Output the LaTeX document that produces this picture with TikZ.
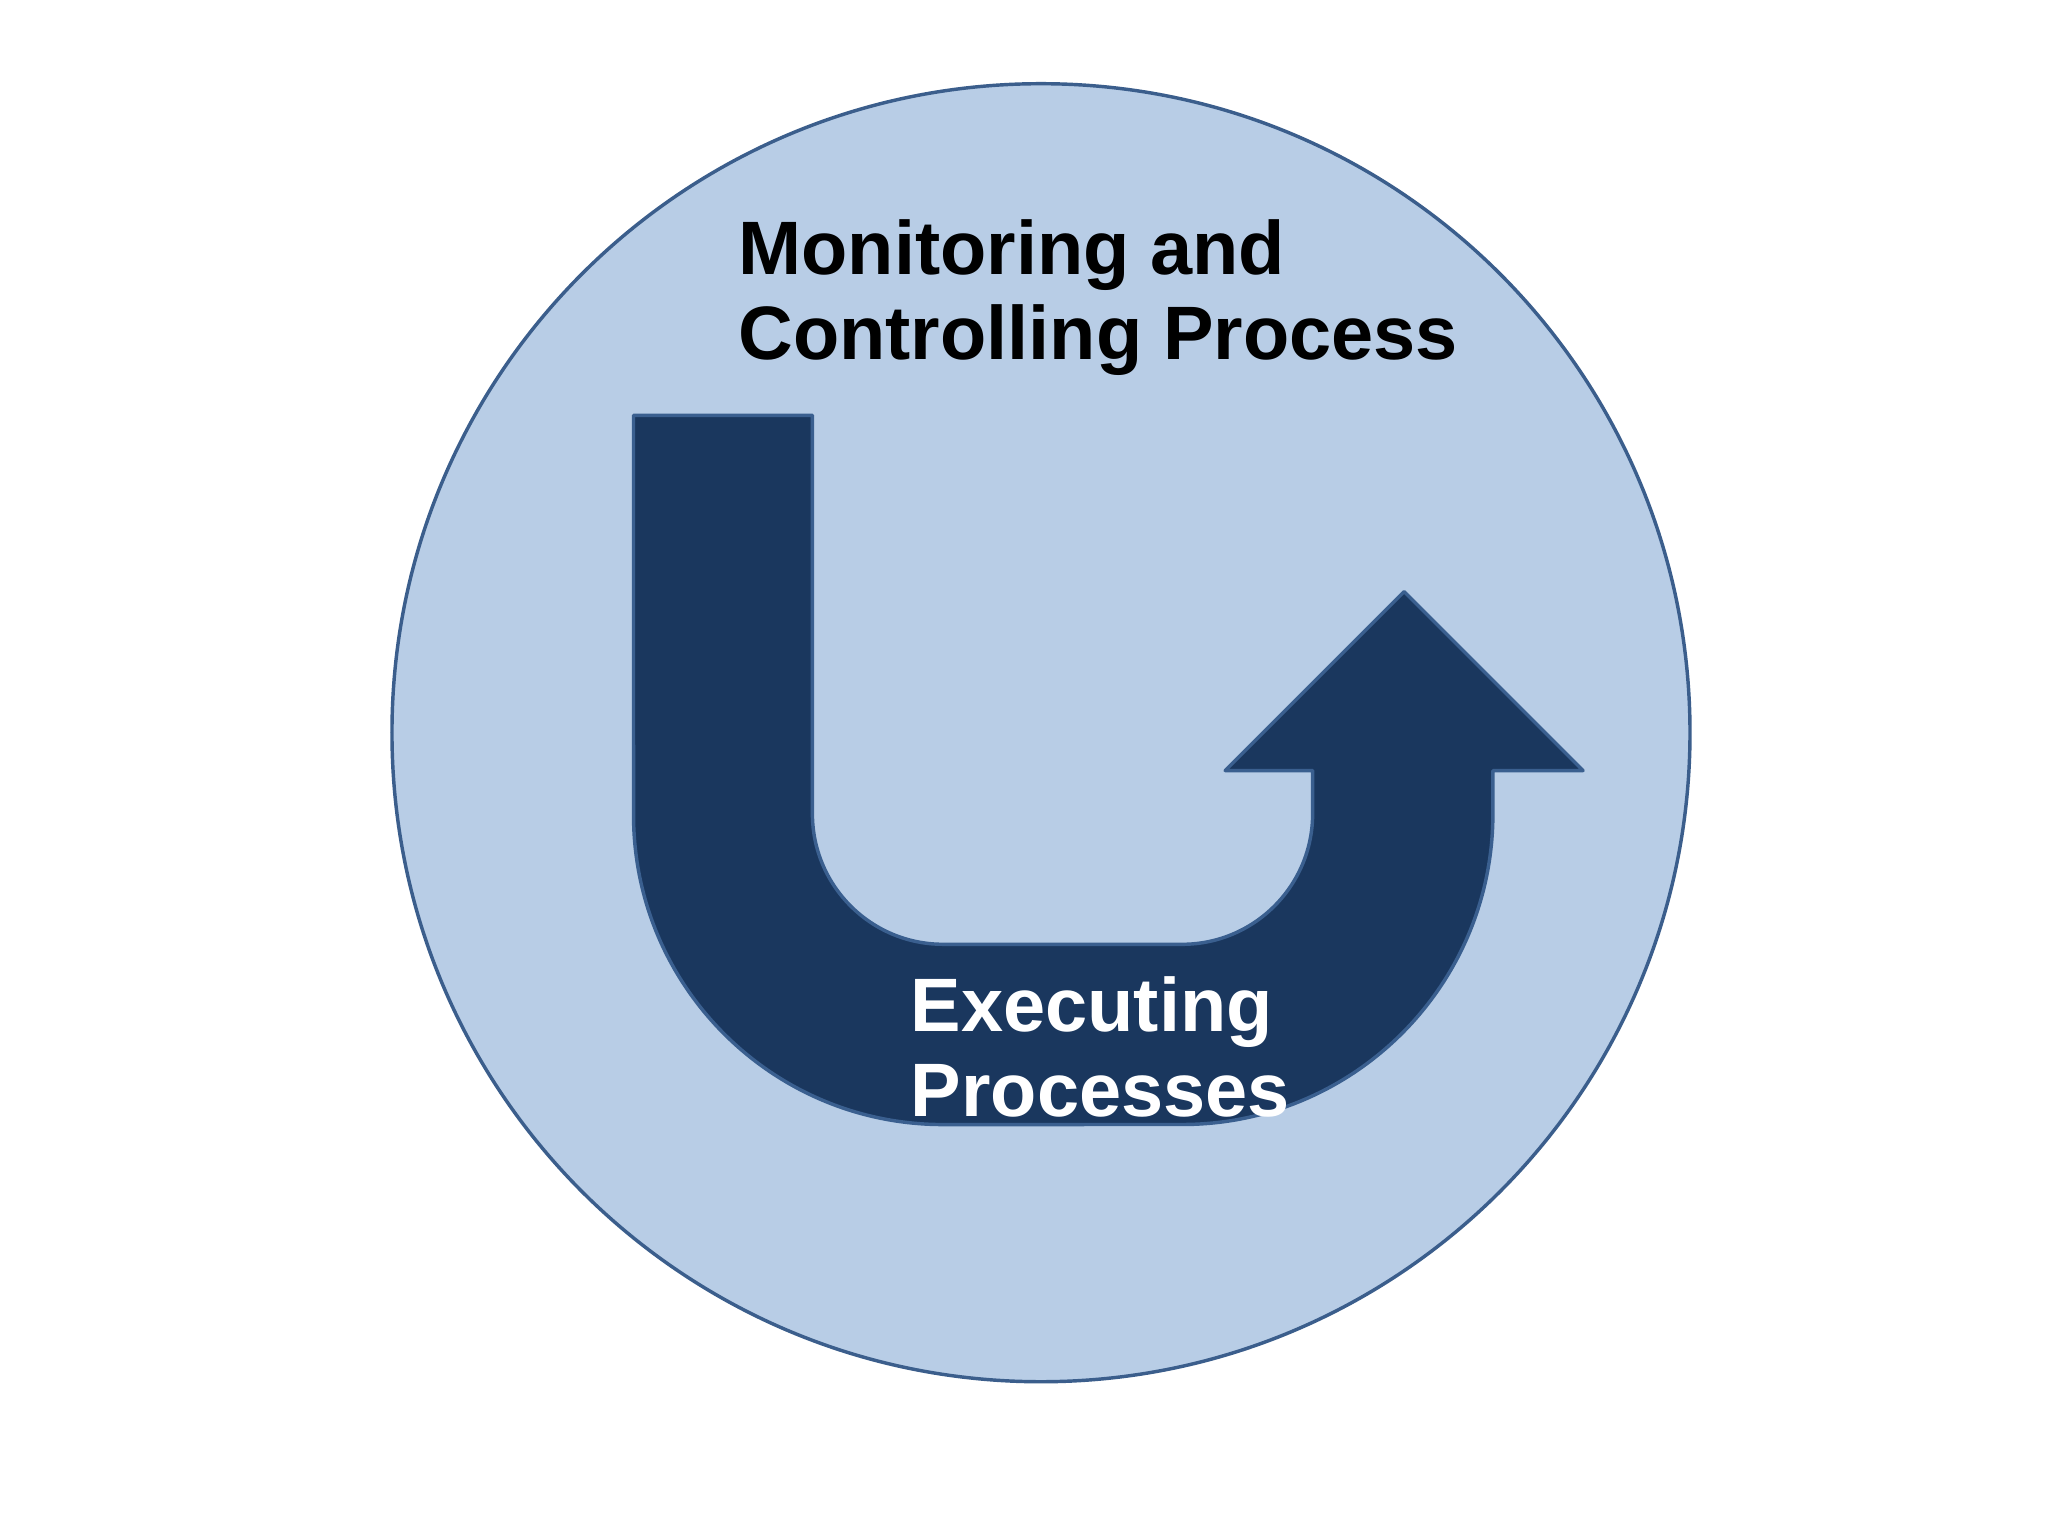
\documentclass[tikz,border=0pt]{standalone}
\usepackage{fontspec}
\setmainfont{Liberation Sans}
\definecolor{circfill}{HTML}{B8CDE6}
\definecolor{circline}{HTML}{3B5E8C}
\definecolor{arrfill}{HTML}{1A375E}
\definecolor{arrline}{HTML}{3A5F8F}
\tikzset{lbl/.style={anchor=base west,inner sep=0pt,font=\fontsize{33}{37}\selectfont\bfseries}}
\begin{document}
\begin{tikzpicture}[x=0.02cm,y=0.02cm]
\useasboundingbox (0,0) rectangle (1568,1176);
\fill[white] (0,0) rectangle (1568,1176);
\node[circle,draw=circline,fill=circfill,line width=1.5pt,minimum size=19.88cm,inner sep=0pt] (circ) at (797,615) {};
\draw[fill=arrfill,draw=arrline,line width=1.5pt,line join=round] (485,858) -- (622,858) -- (622,553) arc (180:270:2cm) -- (905,453) arc (270:360:2cm) -- (1005,586) -- (938,586) -- (1075,723) -- (1212,586) -- (1143,586) -- (1143,553) arc (0:-90:4.76cm) -- (722,315) arc (270:180:4.74cm) -- cycle;
\node[lbl] (m1) at (565,966) {Monitoring and};
\node[lbl] (m2) at (565,901) {Controlling Process};
\node[lbl,text=white] (e1) at (697,386) {Executing};
\node[lbl,text=white] (e2) at (697,321) {Processes};
\end{tikzpicture}
\end{document}
